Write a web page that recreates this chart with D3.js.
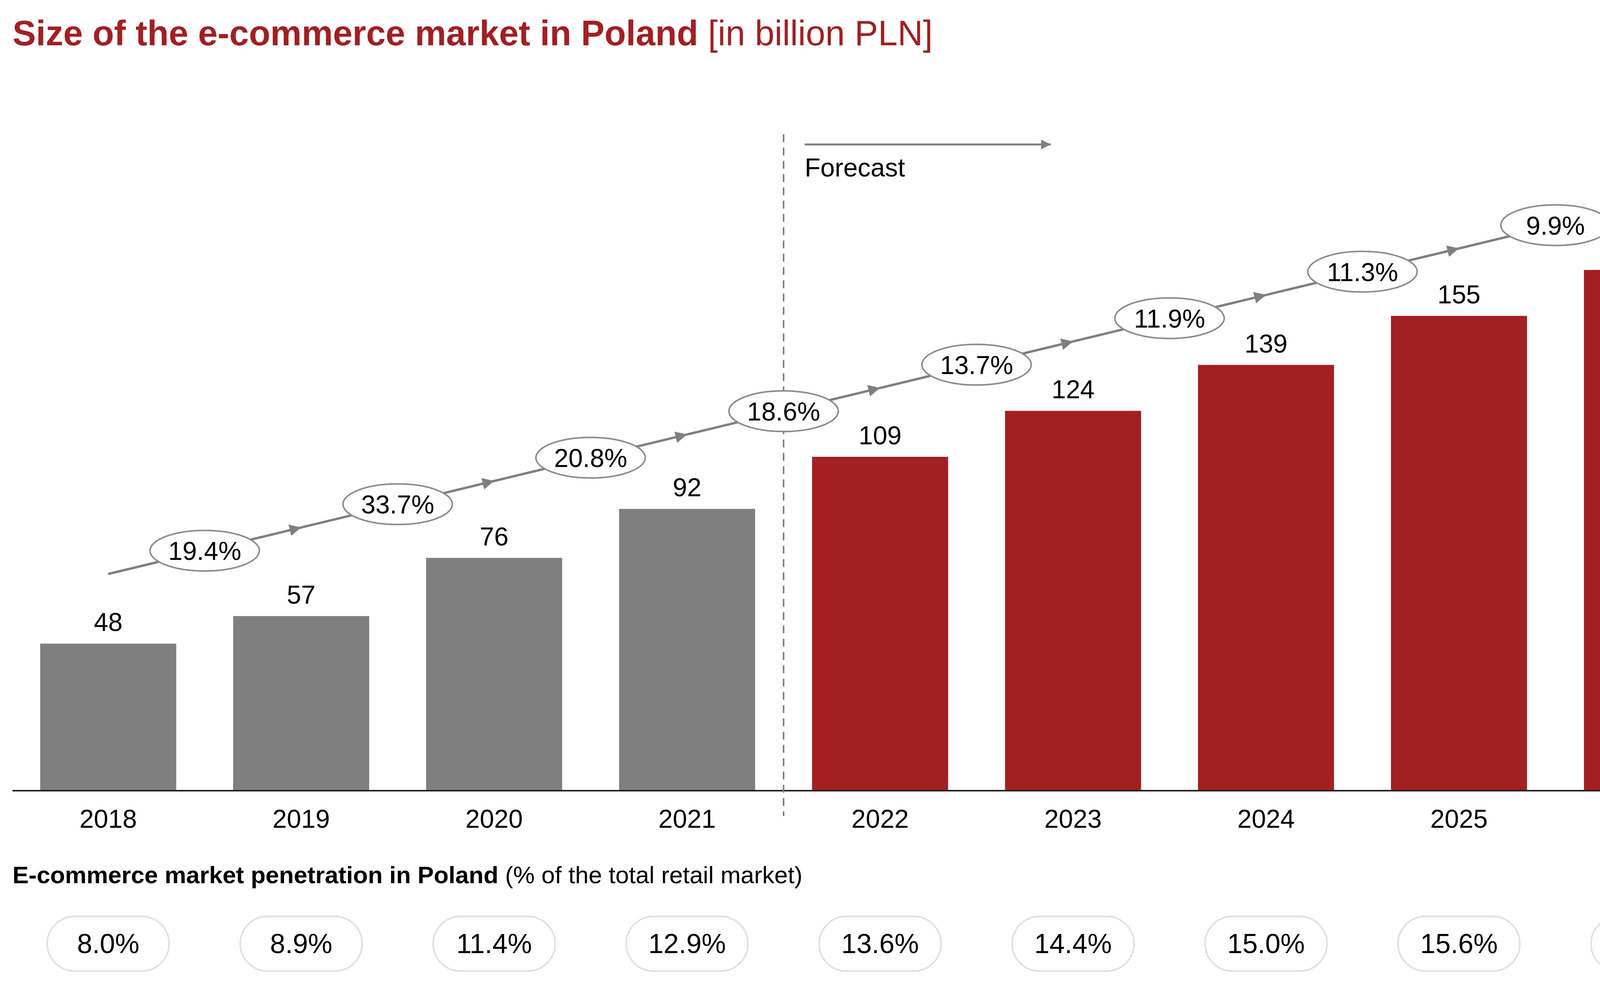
<!DOCTYPE html>
<html>
<head>
<meta charset="utf-8">
<script src="https://cdn.jsdelivr.net/npm/d3@7"></script>
<style>
  body { margin: 0; background: #fff; }
  text { font-family: "Liberation Sans", Arial, sans-serif; }
</style>
</head>
<body>
<svg id="chart" width="5000" height="2515"></svg>
<script>
// data
const years = ['2018', '2019', '2020', '2021', '2022', '2023', '2024', '2025', '2026', '2027'];
const marketSize = [48, 57, 76, 92, 109, 124, 139, 155, 170, 187];
const growth = ['19.4%', '33.7%', '20.8%', '18.6%', '13.7%', '11.9%', '11.3%', '9.9%', '9.6%'];
const penetration = ['8.0%', '8.9%', '11.4%', '12.9%', '13.6%', '14.4%', '15.0%', '15.6%', '16.3%', '17.0%'];
const firstForecast = '2022';

const grey = '#7f7f7f';
const red = '#a21f22';
const base = 2025;

const svg = d3.select('#chart');

const x = d3.scaleBand().domain(years).range([30, 4970]).paddingInner(0.295).paddingOuter(0.1475);
const y = d3.scaleLinear().domain([0, 187]).range([base, base - 1467]);
const cx = d => x(d) + x.bandwidth() / 2;

// title
const title = svg.append('text').attr('x', 32).attr('y', 116).attr('font-size', 90).attr('fill', red);
title.append('tspan').attr('font-weight', 'bold').text('Size of the e-commerce market in Poland');
title.append('tspan').text(' [in billion PLN]');

// bars
svg.selectAll('rect.bar').data(years).enter().append('rect')
  .attr('class', 'bar')
  .attr('x', d => x(d))
  .attr('width', x.bandwidth())
  .attr('y', (d, i) => y(marketSize[i]))
  .attr('height', (d, i) => base - y(marketSize[i]))
  .attr('fill', d => +d >= +firstForecast ? red : grey);

svg.selectAll('text.val').data(years).enter().append('text')
  .attr('x', d => cx(d))
  .attr('y', (d, i) => y(marketSize[i]) - 32)
  .attr('text-anchor', 'middle').attr('font-size', 66)
  .text((d, i) => marketSize[i]);

// axis
svg.append('line').attr('x1', 32).attr('x2', 4968).attr('y1', base).attr('y2', base)
  .attr('stroke', '#222').attr('stroke-width', 4);
svg.selectAll('text.year').data(years).enter().append('text')
  .attr('x', d => cx(d)).attr('y', 2120)
  .attr('text-anchor', 'middle').attr('font-size', 66)
  .text(d => d);

// forecast divider
const divX = (x('2021') + x.bandwidth() + x(firstForecast)) / 2;
svg.append('line').attr('x1', divX).attr('x2', divX).attr('y1', 344).attr('y2', 2090)
  .attr('stroke', grey).attr('stroke-width', 4).attr('stroke-dasharray', '20,14');

const defs = svg.append('defs');
defs.append('marker').attr('id', 'arr').attr('viewBox', '0 0 10 10')
  .attr('refX', 10).attr('refY', 5).attr('markerWidth', 5).attr('markerHeight', 5)
  .attr('markerUnits', 'strokeWidth').attr('orient', 'auto')
  .append('path').attr('d', 'M0,0L10,5L0,10Z').attr('fill', grey);

svg.append('line').attr('x1', divX + 54).attr('x2', 2690).attr('y1', 370).attr('y2', 370)
  .attr('stroke', grey).attr('stroke-width', 5).attr('marker-end', 'url(#arr)');
svg.append('text').attr('x', divX + 54).attr('y', 452).attr('font-size', 66).text('Forecast');

// growth line
const p0 = [cx(years[0]), 1470];
const p1 = [cx(years[years.length - 1]) + 25, 392];
const lineY = px => p0[1] + (px - p0[0]) * (p1[1] - p0[1]) / (p1[0] - p0[0]);
const g = svg.append('g');
// segments between bar centres, each ending with an arrowhead
years.slice(1).forEach((yr, i) => {
  const xa = i === 0 ? p0[0] : cx(years[i]);
  const xb = i === years.length - 2 ? p1[0] : cx(yr);
  g.append('line').attr('x1', xa).attr('y1', lineY(xa)).attr('x2', xb).attr('y2', lineY(xb))
    .attr('stroke', grey).attr('stroke-width', 6).attr('marker-end', 'url(#arr)');
});
growth.forEach((gv, i) => {
  const mx = (cx(years[i]) + cx(years[i + 1])) / 2;
  g.append('ellipse').attr('cx', mx).attr('cy', lineY(mx)).attr('rx', 140).attr('ry', 52)
    .attr('fill', '#fff').attr('stroke', '#8c8c8c').attr('stroke-width', 4);
  g.append('text').attr('x', mx).attr('y', lineY(mx) + 24)
    .attr('text-anchor', 'middle').attr('font-size', 66).text(gv);
});

// penetration
const sub = svg.append('text').attr('x', 32).attr('y', 2262).attr('font-size', 62);
sub.append('tspan').attr('font-weight', 'bold').text('E-commerce market penetration in Poland');
sub.append('tspan').text(' (% of the total retail market)');

svg.selectAll('rect.pill').data(years).enter().append('rect')
  .attr('x', d => cx(d) - 156).attr('y', 2347).attr('width', 312).attr('height', 140)
  .attr('rx', 70).attr('fill', '#fff').attr('stroke', '#e0e0e0').attr('stroke-width', 4);
svg.selectAll('text.pen').data(years).enter().append('text')
  .attr('x', d => cx(d)).attr('y', 2441)
  .attr('text-anchor', 'middle').attr('font-size', 70)
  .text((d, i) => penetration[i]);
</script>
</body>
</html>
